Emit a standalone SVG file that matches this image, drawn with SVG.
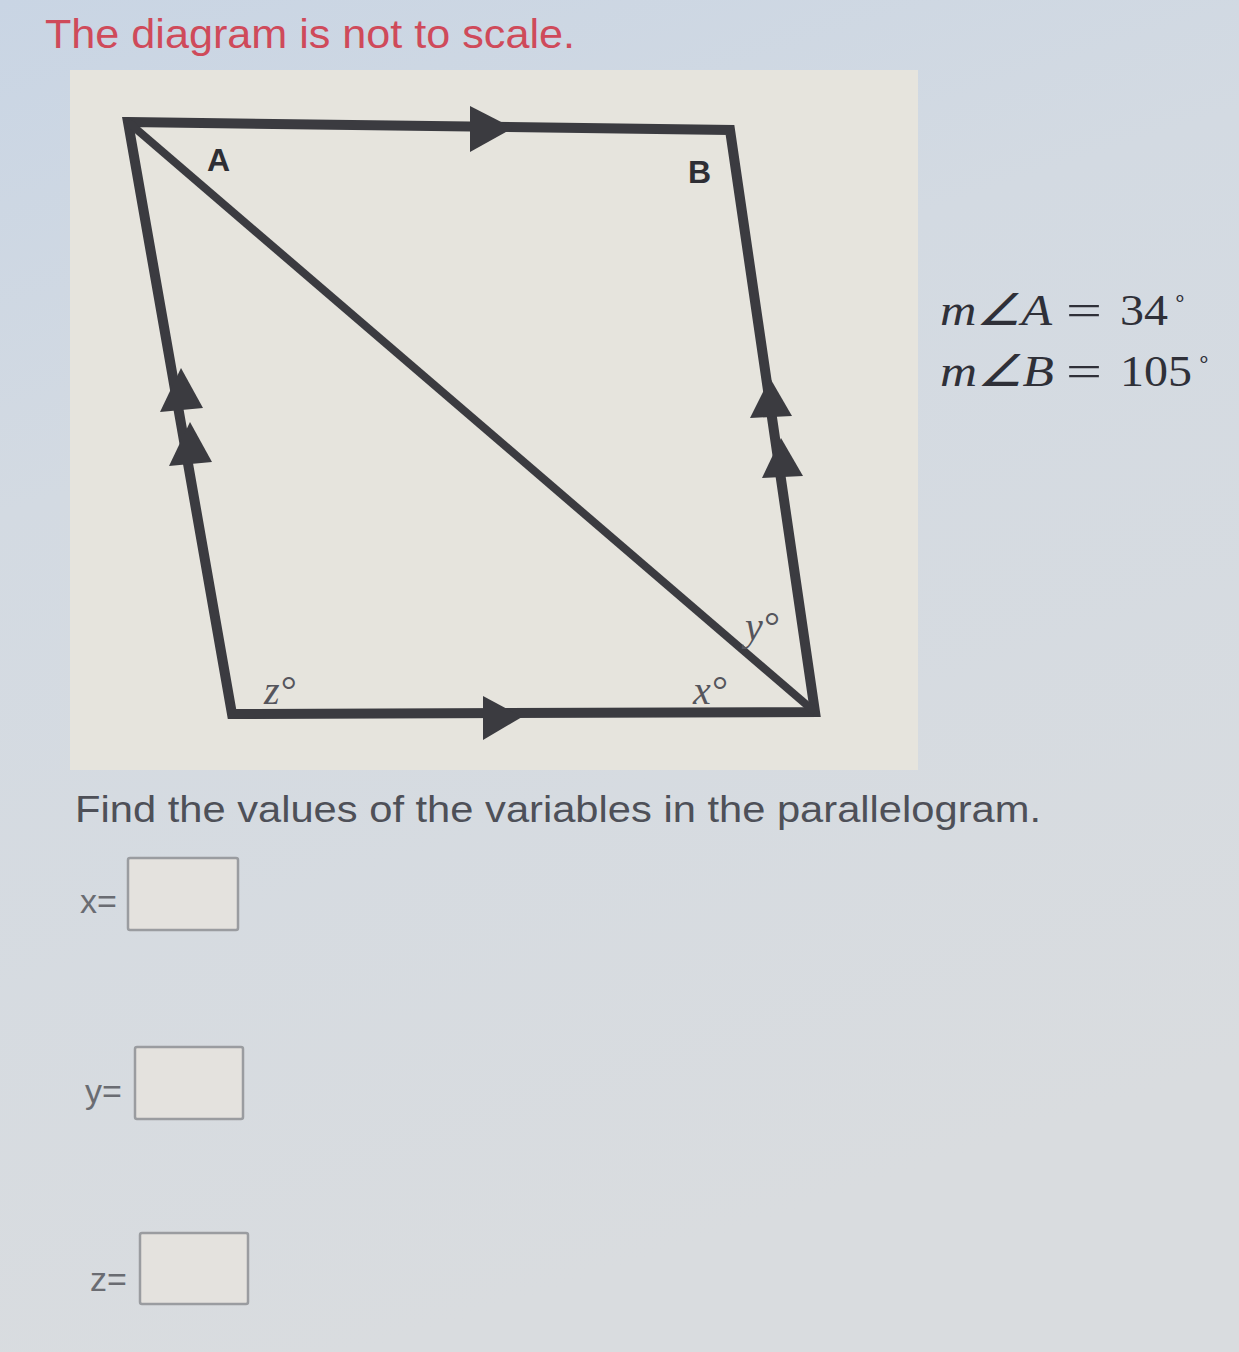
<svg xmlns="http://www.w3.org/2000/svg" width="1239" height="1352" viewBox="0 0 1239 1352">
<defs>
<linearGradient id="bg" x1="0" y1="0" x2="0.3" y2="1">
<stop offset="0" stop-color="#c9d5e4"/>
<stop offset="0.35" stop-color="#d3dae2"/>
<stop offset="1" stop-color="#d9dcdf"/>
</linearGradient>
<style>
.edge{stroke:#3b3b40;stroke-width:10;fill:none;stroke-linejoin:miter;stroke-linecap:square}
.diag{stroke:#3b3b40;stroke-width:8;fill:none}
.ah{fill:#3b3b40}
.pt{font-family:"Liberation Sans",Arial,sans-serif;font-weight:bold;font-size:32px;fill:#2e2e34}
.var{font-family:"Liberation Serif","Times New Roman",serif;font-style:italic;font-size:40px;fill:#55555c}
.math{font-family:"Liberation Serif","Times New Roman",serif;font-size:44px;fill:#2f3038}
.it{font-style:italic}
.deg{font-size:22px}
.q{font-family:"Liberation Sans",Arial,sans-serif;font-size:37px;fill:#4e5058}
.lbl{font-family:"Liberation Sans",Arial,sans-serif;font-size:34px;fill:#6a6c72}
.box{fill:#e4e2de;stroke:#9a9ca0;stroke-width:2.5}
</style>
</defs>
<rect x="0" y="0" width="1239" height="1352" fill="url(#bg)"/>
<rect id="panel" x="70" y="70" width="848" height="700" fill="#e6e4dd"/>
<text id="title" x="45" y="48" font-family="'Liberation Sans',Arial,sans-serif" font-size="40" fill="#cf4a5a" textLength="530" lengthAdjust="spacingAndGlyphs">The diagram is not to scale.</text>

<g id="connectors">
<polygon class="edge" points="128,122 730,130 815,712 232,714"/>
<line class="diag" x1="128" y1="122" x2="815" y2="712"/>
<polygon class="ah" points="470,106 513,128 470,152"/>
<polygon class="ah" points="483,696 522,717 483,740"/>
<polygon class="ah" points="181,368 160,412 203,408"/>
<polygon class="ah" points="190,422 169,466 212,462"/>
<polygon class="ah" points="770,378 750,418 792,416"/>
<polygon class="ah" points="781,438 762,478 803,476"/>
</g>

<g id="vertex-A"><text class="pt" x="207" y="171">A</text></g>
<g id="vertex-B"><text class="pt" x="688" y="183">B</text></g>
<g id="angle-z"><text class="var" x="264" y="704">z°</text></g>
<g id="angle-x"><text class="var" x="693" y="704">x°</text></g>
<g id="angle-y"><text class="var" x="745" y="640">y°</text></g>

<g id="given">
<text class="math" y="325"><tspan class="it" x="940" textLength="112" lengthAdjust="spacingAndGlyphs">m∠A</tspan><tspan x="1066" textLength="36" lengthAdjust="spacingAndGlyphs">=</tspan><tspan x="1120" textLength="48" lengthAdjust="spacingAndGlyphs">34</tspan><tspan class="deg" x="1173" y="305">∘</tspan></text>
<text class="math" y="386"><tspan class="it" x="940" textLength="114" lengthAdjust="spacingAndGlyphs">m∠B</tspan><tspan x="1066" textLength="36" lengthAdjust="spacingAndGlyphs">=</tspan><tspan x="1120" textLength="72" lengthAdjust="spacingAndGlyphs">105</tspan><tspan class="deg" x="1197" y="366">∘</tspan></text>
</g>

<text id="question" class="q" x="75" y="822" textLength="966" lengthAdjust="spacingAndGlyphs">Find the values of the variables in the parallelogram.</text>

<g id="answer-x"><text class="lbl" x="80" y="913">x=</text><rect class="box" x="128" y="858" width="110" height="72" rx="2"/></g>
<g id="answer-y"><text class="lbl" x="85" y="1103">y=</text><rect class="box" x="135" y="1047" width="108" height="72" rx="2"/></g>
<g id="answer-z"><text class="lbl" x="90" y="1291">z=</text><rect class="box" x="140" y="1233" width="108" height="71" rx="2"/></g>
</svg>
